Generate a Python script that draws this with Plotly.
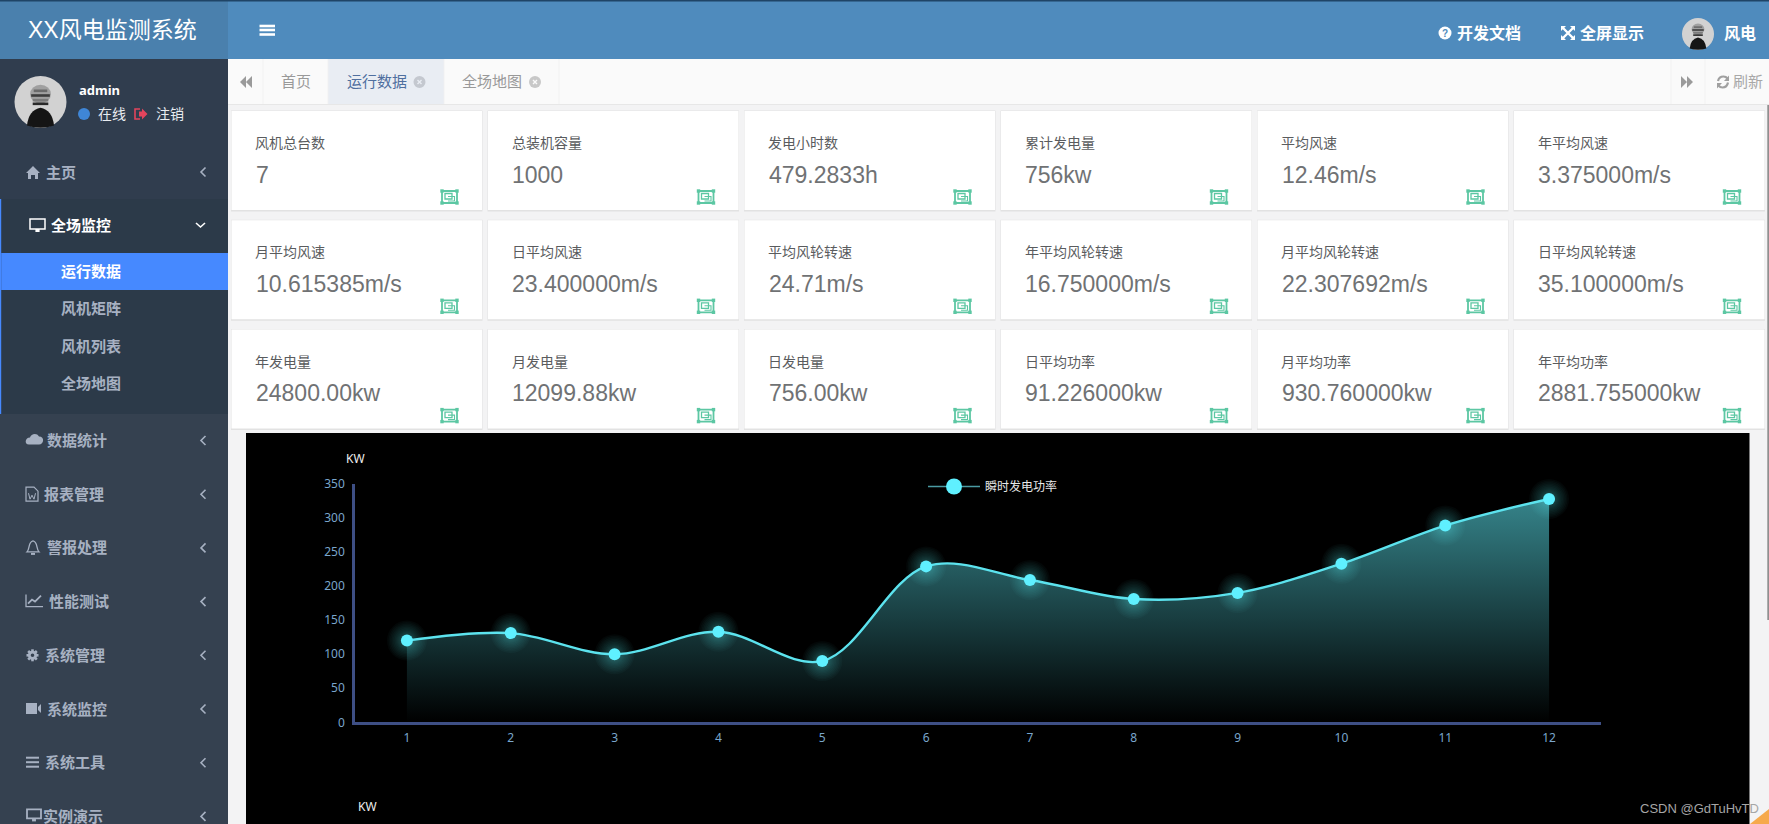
import plotly.graph_objects as go

W, H = 1769, 824

# ---------- data ----------
months = ["1", "2", "3", "4", "5", "6", "7", "8", "9", "10", "11", "12"]
power = [120, 131, 100, 133, 90, 229, 209, 181, 190, 233, 289, 328]
y_ticks = [0, 50, 100, 150, 200, 250, 300, 350]
series_name = "瞬时发电功率"
unit_label = "KW"

card_labels = ["风机总台数", "总装机容量", "发电小时数", "累计发电量", "平均风速", "年平均风速",
               "月平均风速", "日平均风速", "平均风轮转速", "年平均风轮转速", "月平均风轮转速", "日平均风轮转速",
               "年发电量", "月发电量", "日发电量", "日平均功率", "月平均功率", "年平均功率"]
card_values = ["7", "1000", "479.2833h", "756kw", "12.46m/s", "3.375000m/s",
               "10.615385m/s", "23.400000m/s", "24.71m/s", "16.750000m/s", "22.307692m/s", "35.100000m/s",
               "24800.00kw", "12099.88kw", "756.00kw", "91.226000kw", "930.760000kw", "2881.755000kw"]
menu_labels = ["数据统计", "报表管理", "警报处理", "性能测试", "系统管理", "系统监控", "系统工具", "实例演示"]
submenu_labels = ["运行数据", "风机矩阵", "风机列表", "全场地图"]

# ---------- helpers ----------
FONT = "Liberation Sans, Noto Sans CJK SC, sans-serif"
CHART_FONT = "Noto Sans, Noto Sans CJK SC, sans-serif"
shapes, notes = [], []


def fx(x):
    return x / W


def fy(y):
    return 1 - y / H


def rect(x0, y0, x1, y1, fill, line=None, lw=0):
    shapes.append(dict(type="rect", xref="paper", yref="paper", x0=fx(x0), x1=fx(x1), y0=fy(y0), y1=fy(y1),
                       fillcolor=fill, line=dict(color=line or fill, width=lw), layer="below"))


def circ(cx, cy, r, fill, line=None, lw=0, ry=None):
    ry = r if ry is None else ry
    shapes.append(dict(type="circle", xref="paper", yref="paper", x0=fx(cx - r), x1=fx(cx + r),
                       y0=fy(cy - ry), y1=fy(cy + ry), fillcolor=fill,
                       line=dict(color=line or fill, width=lw), layer="below"))


def path(cmd, fill="rgba(0,0,0,0)", line=None, lw=0):
    out, is_x = [], True
    for t in cmd.split():
        if t.isalpha():
            out.append(t)
            is_x = True
        else:
            out.append(f"{fx(float(t)) if is_x else fy(float(t)):.6f}")
            is_x = not is_x
    shapes.append(dict(type="path", xref="paper", yref="paper", path=" ".join(out), fillcolor=fill,
                       line=dict(color=line or "rgba(0,0,0,0)", width=lw), layer="below"))


def text(x, y, s, size=14, color="#fff", anchor="left", bold=False, family=FONT):
    notes.append(dict(xref="paper", yref="paper", x=fx(x), y=fy(y), text=f"<b>{s}</b>" if bold else s,
                      showarrow=False, xanchor=anchor, yanchor="middle", borderpad=0,
                      font=dict(size=size, color=color, family=family)))


def avatar(cx, cy, r):
    circ(cx, cy, r, "#d2d2d2")
    circ(cx, cy - r * .3, r * .4, "#a0a0a0", ry=r * .36)
    for k, c, hw in ((-.48, "#6a6a6a", .26), (-.3, "#3c3c3c", .36), (-.12, "#7a7a7a", .3), (.02, "#2a2a2a", .3)):
        rect(cx - r * hw, cy + r * k, cx + r * hw, cy + r * (k + .1), c)
    path(f"M {cx - r*.52} {cy + r*.9} Q {cx - r*.45} {cy + r*.3} {cx} {cy + r*.22} "
         f"Q {cx + r*.45} {cy + r*.3} {cx + r*.52} {cy + r*.9} Q {cx} {cy + r*1.08} {cx - r*.52} {cy + r*.9} Z", "#151515")


def chevron_left(x, y, color="#a7b1c2"):
    path(f"M {x+2.5} {y-4.5} L {x-2} {y} L {x+2.5} {y+4.5}", line=color, lw=1.6)


def monitor(x, y, w, h, color, lw=1.5):
    path(f"M {x} {y} L {x+w} {y} L {x+w} {y+h} L {x} {y+h} Z", line=color, lw=lw)
    rect(x + w * .36, y + h, x + w * .64, y + h + 3, color)


def icon_home(x, y, c):
    path(f"M {x} {y+7} L {x+7} {y} L {x+14} {y+7} L {x+12} {y+7} L {x+12} {y+13} L {x+9} {y+13} L {x+9} {y+9} "
         f"L {x+5} {y+9} L {x+5} {y+13} L {x+2} {y+13} L {x+2} {y+7} Z", c)


def icon_cloud(x, y, c):
    path(f"M {x+3} {y+11} C {x-2} {y+11} {x-1} {y+4} {x+4} {y+4} C {x+5} {y} {x+11} {y-1} {x+13} {y+3} "
         f"C {x+19} {y+3} {x+18} {y+11} {x+13} {y+11} Z", c)


def icon_file(x, y, c):
    path(f"M {x} {y} L {x+8} {y} L {x+12} {y+4} L {x+12} {y+14} L {x} {y+14} Z", line=c, lw=1.2)
    path(f"M {x+2.5} {y+6} L {x+4} {y+12} L {x+6} {y+8} L {x+8} {y+12} L {x+9.5} {y+6}", line=c, lw=1)


def icon_bell(x, y, c):
    path(f"M {x+1} {y+11} C {x+4} {y+8} {x+2} {y+1} {x+7} {y} C {x+12} {y+1} {x+10} {y+8} {x+13} {y+11} Z", line=c, lw=1.3)
    rect(x + 5, y + 12, x + 9, y + 14, c)


def icon_chart(x, y, c):
    path(f"M {x} {y} L {x} {y+12} L {x+17} {y+12}", line=c, lw=1.3)
    path(f"M {x+2} {y+9} L {x+6} {y+5} L {x+9} {y+7} L {x+15} {y+1}", line=c, lw=1.8)


def icon_gear(x, y, c):
    cx, cy = x + 6.5, y + 7
    for dx, dy in [(6, 0), (0, 6), (4.3, 4.3), (4.3, -4.3)]:
        path(f"M {cx-dx} {cy-dy} L {cx+dx} {cy+dy}", line=c, lw=2.6)
    circ(cx, cy, 4.6, c)
    circ(cx, cy, 1.8, SIDEBAR)


def icon_video(x, y, c):
    rect(x, y + 1, x + 11, y + 12, c)
    path(f"M {x+12} {y+5} L {x+15} {y+2} L {x+15} {y+11} L {x+12} {y+8} Z", c)


def icon_bars(x, y, c):
    for k in (2, 6.5, 11):
        rect(x, y + k - 1, x + 13, y + k + 1, c)


def icon_monitor(x, y, c):
    monitor(x + 1, y, 14, 9, c, 1.8)


def card_icon(x, y, c="#5cc7a3"):
    path(f"M {x+1} {y+1} L {x+16} {y+1} L {x+16} {y+13} L {x+1} {y+13} Z", line=c, lw=1.8)
    path(f"M {x+4} {y+3.5} L {x+11} {y+3.5} L {x+11} {y+9} L {x+4} {y+9} Z", line=c, lw=1.3)
    path(f"M {x+7} {y+6.5} L {x+13.5} {y+6.5} L {x+13.5} {y+11} L {x+7} {y+11}", line=c, lw=1.1)
    for dx, dy in ((1, 1), (16, 1), (1, 13), (16, 13)):
        rect(x + dx - 1.7, y + dy - 1.7, x + dx + 1.7, y + dy + 1.7, c)


# ---------- page chrome ----------
SIDEBAR = "#354150"
MENU = "#a7b1c2"
rect(0, 0, W, H, "#f3f3f4")
rect(228, 0, W, 59, "#4f8bbd")
rect(0, 0, 228, 59, "#4a80ad")
rect(0, 0, W, 1.5, "#1f4466")
rect(0, 59, 228, H, SIDEBAR)
rect(0, 59, 228, 199, "#303d4e")
rect(0, 199, 228, 414, "#2c3a49")
rect(0, 199, 1.2, 414, "#4689ff")
rect(1.2, 253, 228, 290, "#4689ff")

text(27, 30, "XX风电监测系统", 23, "#ffffff")
for k in (26, 30, 34.5):
    rect(259.5, k - 1.3, 275, k + 1.3, "#ffffff")

# header, right
circ(1445, 33, 6.5, "#ffffff")
text(1445, 33, "?", 10, "#4f8bbd", "center", True)
text(1456, 33, "开发文档", 16, "#fff", bold=True)
path("M 1563 28 L 1573 38 M 1573 28 L 1563 38", line="#fff", lw=2.4)
for sx, sy in ((1561, 26), (1575, 26), (1561, 40), (1575, 40)):
    dx = 5 if sx == 1561 else -5
    dy = 5 if sy == 26 else -5
    path(f"M {sx} {sy} L {sx+dx} {sy} L {sx} {sy+dy} Z", "#fff")
text(1579, 33, "全屏显示", 16, "#fff", bold=True)
avatar(1698, 34, 16)
text(1723, 33, "风电", 16, "#fff", bold=True)

# user panel
avatar(40.5, 102, 26)
text(78, 90, "admin", 13, "#ffffff", bold=True, family="Noto Sans, sans-serif")
circ(84, 114, 6, "#3f86d6")
text(97, 114, "在线", 14, "#e8ecf1")
path("M 140 109 L 135 109 L 135 119 L 140 119", line="#e2445c", lw=1.6)
path("M 139 111.5 L 142 111.5 L 142 108.5 L 147.5 114 L 142 119.5 L 142 116.5 L 139 116.5 Z", "#e2445c")
text(155, 114, "注销", 14, "#e8ecf1")

# top level items
icon_home(26, 166, MENU)
text(44.5, 172, "主页", 15, MENU, bold=True)
chevron_left(203, 172)
monitor(30, 219, 15, 10, "#ffffff")
text(50, 225, "全场监控", 15, "#ffffff", bold=True)
path("M 196 223 L 200.5 227 L 205 223", line="#fff", lw=1.6)
for i, lab in enumerate(submenu_labels):
    y = 271 + i * 37.6
    text(59.5, y, lab, 15, "#ffffff" if i == 0 else MENU, bold=True)

menu_icons = [icon_cloud, icon_file, icon_bell, icon_chart, icon_gear, icon_video, icon_bars, icon_monitor]
menu_text_x = [46, 43, 45.5, 48, 43.5, 45.5, 43.5, 42]
for i, lab in enumerate(menu_labels):
    y = 440.5 + i * 53.7
    menu_icons[i](26, y - 7, MENU)
    text(menu_text_x[i], y, lab, 15, MENU, bold=True)
    chevron_left(203, y)

# tab bar
rect(228, 59, W, 104, "#fafafa")
rect(328, 59, 444, 104, "#e9edf3")
for xl in (263, 328, 444, 559, 1671, 1705):
    rect(xl - .4, 59, xl + .4, 104, "#efefef")
rect(228, 104, W, 105, "#e7e7e7")
TG = "#9a9a9a"
path("M 246 76 L 240 82 L 246 88 Z M 252 76 L 246 82 L 252 88 Z", TG)
path("M 1681 76 L 1687 82 L 1681 88 Z M 1687 76 L 1693 82 L 1687 88 Z", TG)
text(279.5, 82, "首页", 15, "#999999")
text(345.5, 82, "运行数据", 15, "#4f6f9f")
circ(419.5, 82, 6, "#c4c8cf")
path("M 417.5 80 L 421.5 84 M 421.5 80 L 417.5 84", line="#e9edf3", lw=1.4)
text(461, 82, "全场地图", 15, "#999999")
circ(535, 82, 6, "#c8c8c8")
path("M 533 80 L 537 84 M 537 80 L 533 84", line="#fafafa", lw=1.4)
# refresh glyph: two arcs with arrow heads
path("M 1718 81 Q 1719 76.5 1723.5 76.5 Q 1726 76.5 1727.5 78.5", line="#a0a0a0", lw=2.2)
path("M 1728 82.5 Q 1727 87.5 1722.5 87.5 Q 1720 87.5 1718.5 85.5", line="#a0a0a0", lw=2.2)
path("M 1729 75.5 L 1729 81 L 1724 81 Z M 1717 88.5 L 1717 83 L 1722 83 Z", "#a0a0a0")
text(1732, 82, "刷新", 15, "#a8a8a8")

# stat cards
for i, (lab, val) in enumerate(zip(card_labels, card_values)):
    col, row = i % 6, i // 6
    x0 = 231.5 + col * 256.5
    y0 = 111 + row * 109.3
    rect(x0 - .5, y0 - .5, x0 + 251, y0 + 100.5, "#e2e2e2")
    rect(x0, y0, x0 + 250.5, y0 + 99, "#ffffff")
    text(x0 + 22.5, y0 + 32, lab, 14, "#5a5c5e")
    text(x0 + 23, y0 + 63.5, val, 23, "#707274")
    card_icon(x0 + 209.5, y0 + 79)

# chart panel
rect(246, 433, 1749.5, H, "#000000")
text(355.5, 458.5, unit_label, 12, "#eeeeee", "center", family=CHART_FONT)
text(367, 806, unit_label, 12, "#eeeeee", "center", family=CHART_FONT)

# scrollbar, watermark and corner
rect(1767.3, 105, W, 620, "#8f8f8f")
text(1638.5, 808, "CSDN @GdTuHvTD", 13, "#a6a6a6", family="Liberation Sans, sans-serif")
path("M 1750 824 L 1769 809 L 1769 824 Z", "#f6a94b")

# ---------- chart ----------
LINE = "#5ce3ee"
TICK = "#7aa6cc"
AXIS = "#3e4f85"
fig = go.Figure()
# soft glow around the points: many faint discs stacked
for size in (40, 37, 34, 31, 28, 25, 22, 20, 18, 16, 14):
    fig.add_trace(go.Scatter(x=months, y=power, mode="markers", showlegend=False, hoverinfo="skip",
                             cliponaxis=False,
                             marker=dict(size=size, color="rgba(92,240,255,0.028)", line=dict(width=0))))
fig.add_trace(go.Scatter(x=months, y=power, mode="lines+markers", name=series_name, showlegend=False,
                         line=dict(color=LINE, width=2.4, shape="spline", smoothing=1.0),
                         marker=dict(size=12, color="#5ff0ff", line=dict(width=0)), cliponaxis=False,
                         fill="tozeroy", fillcolor="rgba(92,227,238,0.3)",
                         fillgradient=dict(type="vertical", start=0, stop=max(power),
                                           colorscale=[[0, "rgba(92,227,238,0)"], [1, "rgba(92,227,238,0.58)"]])))
# legend key, with its own larger symbol
fig.add_trace(go.Scatter(x=[None], y=[None], mode="lines+markers", name=series_name,
                         line=dict(color="#4a9aa2", width=1.5),
                         marker=dict(size=18, color="#5ff0ff", line=dict(width=0))))

fig.update_layout(
    width=W, height=H, margin=dict(l=0, r=0, t=0, b=0, pad=0, autoexpand=False), autosize=False,
    paper_bgcolor="rgba(0,0,0,0)", plot_bgcolor="rgba(0,0,0,0)",
    shapes=shapes, annotations=notes, hovermode=False,
    xaxis=dict(domain=[fx(355), fx(1601)], type="category", categoryorder="array", categoryarray=months,
               range=[-0.5, 11.5], showgrid=False, zeroline=False, showline=True, linecolor=AXIS, linewidth=2.5,
               ticks="", ticklabelstandoff=3, tickfont=dict(size=12, color=TICK, family=CHART_FONT)),
    yaxis=dict(domain=[fy(722.3), fy(484)], range=[0, 350], tickvals=y_ticks, showgrid=False, zeroline=False,
               showline=True, linecolor=AXIS, linewidth=2.5, ticks="", ticklabelstandoff=5,
               tickfont=dict(size=12, color=TICK, family=CHART_FONT)),
    legend=dict(x=fx(923), y=fy(472), xanchor="left", yanchor="top", bgcolor="rgba(0,0,0,0)",
                itemwidth=52, font=dict(size=12, color="#e8e8e8", family=FONT)),
    font=dict(family=FONT),
)

fig.write_html("out.html", config=dict(displayModeBar=False),
               post_script="document.body.style.margin='0';document.body.style.overflow='hidden';")
